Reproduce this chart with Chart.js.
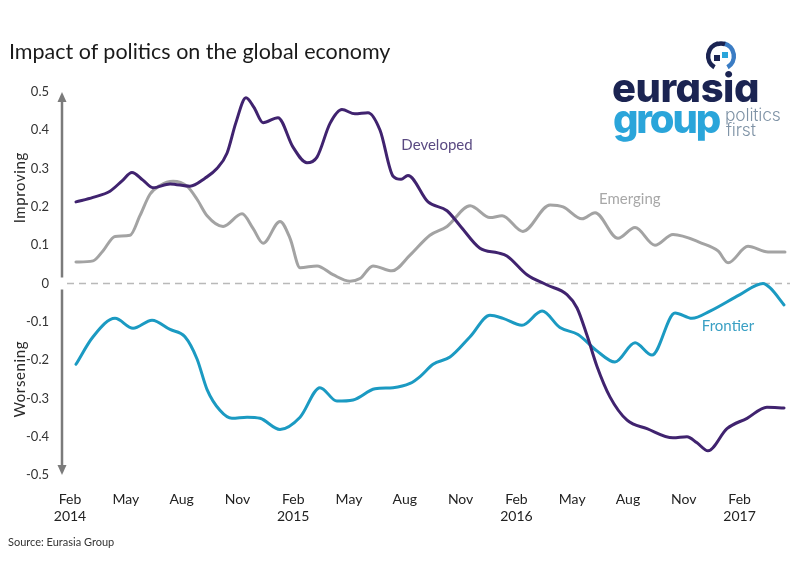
<!DOCTYPE html>
<html><head><meta charset="utf-8">
<script src="https://cdn.jsdelivr.net/npm/chart.js@4"></script>
<style>
html,body{margin:0;padding:0;background:#fff;}
#wrap{position:relative;width:804px;height:581px;overflow:hidden;background:#fff;}
#c{position:absolute;left:0;top:0;}
.t{position:absolute;white-space:nowrap;line-height:1;}
#title{left:9px;top:38px;font:400 21.5px Lato;color:#1a1a1a;}
#source{left:8px;top:535px;font:400 11px Lato;color:#333;}
.logo{font-family:Inter;font-weight:800;font-size:40px;font-feature-settings:"cv11" 1;letter-spacing:-0.5px;}
#eu{left:612px;top:68px;color:#1b2452;}
#gr{left:613px;top:99px;color:#2aa5da;letter-spacing:-2.2px;}
.tag{font-family:Inter;font-weight:300;font-size:17.5px;color:#7f93a6;letter-spacing:-0.2px;}
#pol{left:725px;top:106px;}
#fir{left:726px;top:121px;}
#icon{position:absolute;left:705px;top:40px;}
</style></head><body>
<div id="wrap">
<canvas id="c" width="804" height="581"></canvas>
<div class="t" id="title">Impact of politics on the global economy</div>
<div class="t" id="source">Source: Eurasia Group</div>
<svg id="icon" width="32" height="32" viewBox="0 0 32 32">
  <path d="M13 3.5 A13 13 0 0 0 9.5 27.3" fill="none" stroke="#1b2452" stroke-width="4.5"/>
  <path d="M19 3.5 A13 13 0 0 1 22.5 27.3" fill="none" stroke="#3a7cc4" stroke-width="4.5"/>
  <path d="M12 4.2 A13 13 0 0 1 20 4.2" fill="none" stroke="#1b2452" stroke-width="4.5"/>
  <rect x="9" y="15" width="6" height="6" fill="#1b2452"/>
  <rect x="17" y="12" width="6" height="6" fill="#2aa5da"/>
</svg>
<div class="t logo" id="eu">eurasia</div>
<div class="t logo" id="gr">group</div>
<div class="t tag" id="pol">politics</div>
<div class="t tag" id="fir">first</div>
</div>
<script>
// x values: months since Feb 2014
const tickMonths = [0,3,6,9,12,15,18,21,24,27,30,33,36];
const tickLabels = [["Feb","2014"],"May","Aug","Nov",["Feb","2015"],"May","Aug","Nov",["Feb","2016"],"May","Aug","Nov",["Feb","2017"]];
const yTicks = [0.5,0.4,0.3,0.2,0.1,0,-0.1,-0.2,-0.3,-0.4,-0.5];

const developedX = [0.32,1.24,2.15,2.8,3.33,3.92,4.46,5.38,6.45,7.26,7.9,8.44,8.92,9.46,9.89,10.38,11.18,11.99,12.74,13.28,13.98,14.62,15.32,16.02,16.67,17.37,17.8,18.17,19.25,20.27,20.97,22.04,23.01,23.49,24.57,25.65,26.72,27.26,27.8,28.33,29.03,29.95,31.02,32.42,33.17,33.71,34.3,35.32,36.4,37.47,38.39];
const developedY = [0.213,0.225,0.241,0.268,0.29,0.27,0.25,0.26,0.254,0.275,0.30,0.34,0.42,0.485,0.46,0.42,0.433,0.356,0.315,0.33,0.418,0.454,0.443,0.446,0.40,0.28,0.272,0.282,0.213,0.19,0.151,0.092,0.08,0.072,0.023,-0.004,-0.029,-0.064,-0.136,-0.216,-0.296,-0.357,-0.379,-0.403,-0.40,-0.416,-0.437,-0.379,-0.352,-0.323,-0.325];

const emergingX = [0.32,1.24,1.77,2.42,3.23,3.76,4.3,4.84,5.54,6.29,6.83,7.37,8.23,9.25,9.84,10.38,11.29,11.83,12.37,13.28,14.14,15.05,15.59,16.29,17.31,18.28,19.35,20.27,21.51,22.58,23.23,24.35,25.81,26.51,27.53,28.23,29.46,30.38,31.45,32.42,33.98,34.84,35.38,36.45,37.53,38.44];
const emergingY = [0.056,0.059,0.085,0.123,0.126,0.177,0.233,0.256,0.267,0.254,0.22,0.177,0.149,0.182,0.144,0.105,0.162,0.118,0.041,0.046,0.023,0.006,0.013,0.046,0.033,0.074,0.126,0.149,0.203,0.172,0.177,0.136,0.205,0.20,0.169,0.185,0.118,0.146,0.10,0.128,0.105,0.085,0.054,0.097,0.082,0.082];

const frontierX = [0.32,1.24,2.42,3.39,4.41,5.38,6.18,6.83,7.37,8.06,8.71,9.52,10.22,11.29,12.37,13.44,14.35,15.22,16.4,17.37,18.28,18.82,19.52,20.43,21.51,22.58,23.28,24.3,25.38,26.34,27.31,28.33,29.3,30.38,31.29,32.53,33.44,34.41,36.02,37.26,37.63,38.39];
const frontierY = [-0.211,-0.139,-0.091,-0.117,-0.096,-0.12,-0.139,-0.197,-0.277,-0.331,-0.352,-0.349,-0.352,-0.381,-0.349,-0.272,-0.307,-0.304,-0.275,-0.272,-0.261,-0.243,-0.211,-0.192,-0.139,-0.083,-0.091,-0.109,-0.072,-0.115,-0.133,-0.176,-0.205,-0.155,-0.187,-0.077,-0.091,-0.072,-0.029,0.0,-0.011,-0.056];

const seriesNames = ["Developed","Emerging","Frontier"];
const seriesColors = ["#40236f","#a3a3a3","#1b9ac2"];
const labelColors = ["#5a4a82","#a8a8a8","#3aa0c4"];
const labelAnchors = [[19.73,0.36],[30.1,0.22],[35.38,-0.112]];

const pts = (xs, ys) => xs.map((x,i)=>({x, y: ys[i]}));

const deco = {
  id:'deco',
  beforeDatasetsDraw(chart){
    const {ctx, chartArea, scales:{x,y}} = chart;
    const y0 = y.getPixelForValue(0);
    const yt = y.getPixelForValue(0.5), yb = y.getPixelForValue(-0.5);
    const ax = chartArea.left;
    ctx.save();
    ctx.strokeStyle = '#b9b9b9'; ctx.lineWidth = 1.5; ctx.setLineDash([7,5]);
    ctx.beginPath(); ctx.moveTo(ax+5, y0); ctx.lineTo(chartArea.right, y0); ctx.stroke();
    ctx.setLineDash([]);
    ctx.strokeStyle = '#7b7b7b'; ctx.fillStyle = '#7b7b7b'; ctx.lineWidth = 2.5;
    ctx.beginPath(); ctx.moveTo(ax, y0-6); ctx.lineTo(ax, yt+8); ctx.stroke();
    ctx.beginPath(); ctx.moveTo(ax-4.5, yt+10); ctx.lineTo(ax, yt); ctx.lineTo(ax+4.5, yt+10); ctx.closePath(); ctx.fill();
    ctx.beginPath(); ctx.moveTo(ax, y0+6); ctx.lineTo(ax, yb-8); ctx.stroke();
    ctx.beginPath(); ctx.moveTo(ax-4.5, yb-10); ctx.lineTo(ax, yb); ctx.lineTo(ax+4.5, yb-10); ctx.closePath(); ctx.fill();
    ctx.fillStyle = '#2a2a2a'; ctx.font = '15px Lato'; ctx.textAlign = 'center'; ctx.textBaseline = 'middle';
    try { ctx.letterSpacing = '0.6px'; } catch(e) {}
    ctx.translate(20, (yt+y0)/2); ctx.rotate(-Math.PI/2); ctx.fillText('Improving', 0, 0);
    ctx.setTransform(1,0,0,1,0,0);
    ctx.translate(20, (yb+y0)/2); ctx.rotate(-Math.PI/2); ctx.fillText('Worsening', 0, 0);
    ctx.restore();
  },
  afterDatasetsDraw(chart){
    const {ctx, scales:{x,y}} = chart;
    ctx.save();
    ctx.font = '15px Lato'; ctx.textAlign = 'center'; ctx.textBaseline = 'middle';
    seriesNames.forEach((n,i)=>{
      ctx.fillStyle = labelColors[i];
      ctx.fillText(n, x.getPixelForValue(labelAnchors[i][0]), y.getPixelForValue(labelAnchors[i][1]));
    });
    ctx.restore();
  }
};

Chart.defaults.font.family = 'Lato';
new Chart(document.getElementById('c'), {
  type:'line',
  data:{ datasets:[
    {label:seriesNames[0], data:pts(developedX,developedY), borderColor:seriesColors[0]},
    {label:seriesNames[1], data:pts(emergingX,emergingY), borderColor:seriesColors[1]},
    {label:seriesNames[2], data:pts(frontierX,frontierY), borderColor:seriesColors[2]}
  ]},
  options:{
    responsive:false, animation:false,
    layout:{padding:{top:92, right:14, bottom:36, left:0}},
    elements:{ line:{borderWidth:3, cubicInterpolationMode:'monotone', borderCapStyle:'round', borderJoinStyle:'round', fill:false}, point:{radius:0, hitRadius:0} },
    plugins:{ legend:{display:false}, tooltip:{enabled:false} },
    scales:{
      x:{ type:'linear', min:-0.43, max:38.71,
        grid:{display:false}, border:{display:false},
        afterFit(s){ s.height = 70; },
        afterBuildTicks(s){ s.ticks = tickMonths.map(v=>({value:v})); },
        ticks:{ autoSkip:false, maxRotation:0, padding:8, color:'#222', font:{size:14}, callback:(v,i)=>tickLabels[i] }
      },
      y:{ type:'linear', min:-0.5, max:0.5,
        grid:{display:false}, border:{display:false},
        afterFit(s){ s.width = 62; },
        afterBuildTicks(s){ s.ticks = yTicks.map(v=>({value:v})); },
        ticks:{ padding:5, color:'#333', font:{size:13}, callback:(v)=> v===0 ? '0' : v.toFixed(1) }
      }
    }
  },
  plugins:[deco]
});
</script>
</body></html>
